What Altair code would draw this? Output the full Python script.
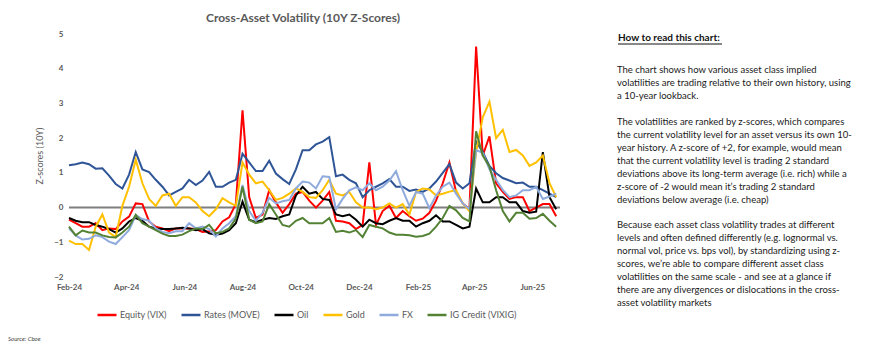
import altair as alt
import pandas as pd

# ---------------- data ----------------
series_names = ["Equity (VIX)", "Rates (MOVE)", "Oil", "Gold", "FX", "IG Credit (VIXIG)"]
series_colors = ["#FF0000", "#2F5597", "#000000", "#FFC000", "#8FAADC", "#548235"]

# weekly observations, Feb-2024 .. Jun-2025
dates = pd.date_range("2024-02-01", periods=74, freq="7D")

equity = [-0.35, -0.45, -0.55, -0.55, -0.45, -0.65, -0.6, -0.62, -0.4, -0.26,
          0.12, 0.1, -0.4, -0.55, -0.6, -0.68, -0.6, -0.6, -0.6, -0.62,
          -0.7, -0.68, -0.65, -0.4, -0.28, 0.1, 2.8, 0.3, -0.3, -0.2,
          0.5, 0.15, -0.15, 0.1, 0.4, 0.45, 0.2, 0.0, 0.2, 0.45,
          -0.38, -0.4, -0.45, -0.62, -0.5, 1.3, -0.5, -0.1, 0.05, -0.3,
          -0.1, -0.25, -0.38, -0.32, -0.15, 0.2, 0.7, 1.3, 0.45, 0.12,
          -0.05, 4.64, 1.5, 2.05, 0.7, 0.45, 0.25, 0.3, 0.3, -0.1,
          0.0, 0.1, 0.1, -0.25]
rates = [1.22, 1.25, 1.3, 1.25, 1.12, 1.13, 0.92, 0.68, 0.55, 0.95,
         1.6, 1.1, 1.02, 0.8, 0.6, 0.35, 0.45, 0.55, 0.8, 0.65,
         0.78, 1.03, 0.6, 0.6, 0.72, 0.8, 1.55, 1.3, 1.05, 1.05,
         1.35, 0.98, 0.82, 0.68, 1.1, 1.65, 1.65, 1.82, 1.9, 2.03,
         0.9, 0.95, 0.8, 0.7, 0.3, 0.5, 0.6, 0.7, 0.82, 0.6,
         0.6, 0.48, 0.52, 0.45, 0.55, 0.75, 1.0, 1.25, 0.72, 0.55,
         0.7, 1.9, 1.6, 1.2, 0.99, 0.85, 0.78, 0.7, 0.72, 0.6,
         0.6, 0.5, 0.4, 0.3]
oil = [-0.3, -0.38, -0.42, -0.42, -0.5, -0.55, -0.62, -0.72, -0.6, -0.4,
       -0.3, -0.38, -0.55, -0.6, -0.62, -0.62, -0.6, -0.58, -0.6, -0.65,
       -0.62, -0.74, -0.78, -0.75, -0.65, -0.45, 0.17, -0.35, -0.42, -0.35,
       -0.3, -0.33, -0.25, -0.2, 0.35, 0.6, 0.4, 0.45, 0.25, 0.22,
       -0.2, -0.25, -0.2, -0.35, -0.55, -0.35, -0.45, -0.48, -0.38, -0.3,
       -0.38, -0.38, -0.55, -0.45, -0.38, -0.22, -0.4, -0.4, -0.5, -0.6,
       -0.55, 0.55, 0.15, 0.15, 0.3, 0.3, 0.15, 0.15, -0.1, -0.15,
       -0.12, 1.6, 0.3, -0.05]
gold = [-0.95, -1.05, -1.05, -1.22, -0.55, -0.2, -0.72, -0.85, 0.05, 0.6,
        1.38, 0.7, 0.25, 0.05, 0.35, 0.4, 0.05, 0.3, 0.3, 0.15,
        -0.1, -0.25, -0.05, 0.27, 0.15, 0.05, 1.3, 0.95, 0.7, 0.75,
        0.5, 0.22, 0.28, 0.4, 0.55, 0.45, 0.3, 0.28, 0.5, 0.8,
        0.4, 0.35, 0.45, 0.15, 0.0, 0.0, -0.05, 0.0, 0.12, 0.0,
        0.1, -0.2, 0.45, 0.55, 0.52, 0.35, 0.4, 0.46, 0.5, 0.12,
        -0.1, 1.6, 2.6, 3.05, 2.0, 2.24, 1.6, 1.66, 1.5, 1.2,
        1.3, 1.5, 0.7, 0.3]
fx = [-0.6, -0.8, -0.92, -0.9, -0.8, -0.85, -0.98, -1.05, -0.85, -0.65,
      -0.22, -0.33, -0.38, -0.6, -0.7, -0.74, -0.68, -0.68, -0.45, -0.6,
      -0.55, -0.62, -0.83, -0.6, -0.45, -0.25, 0.65, -0.1, -0.38, -0.15,
      0.28, 0.12, 0.18, 0.22, 0.55, 0.75, 0.72, 0.55, 0.9, 0.88,
      -0.05, 0.25, 0.5, 0.58, 0.5, 0.7, 0.5, 0.6, 0.78, 1.05,
      0.5, 0.05, 0.45, 0.4, -0.02, 0.35, 0.6, 0.72, 0.4, 0.12,
      -0.05, 1.66, 1.57, 1.1, 0.8, 0.51, 0.3, 0.35, 0.5, 0.5,
      0.6, 0.25, 0.32, 0.4]
ig_credit = [-0.55, -0.8, -0.66, -0.72, -0.72, -0.8, -0.85, -0.86, -0.72, -0.55,
             -0.21, -0.45, -0.55, -0.65, -0.75, -0.82, -0.82, -0.78, -0.68, -0.6,
             -0.62, -0.5, -0.74, -0.7, -0.6, -0.32, 0.6, -0.35, -0.45, -0.4,
             0.1, -0.2, -0.5, -0.55, -0.38, -0.3, -0.45, -0.45, -0.45, -0.3,
             -0.7, -0.67, -0.72, -0.65, -0.85, -0.5, -0.55, -0.6, -0.72, -0.78,
             -0.78, -0.8, -0.84, -0.82, -0.75, -0.55, -0.3, 0.05, -0.08, -0.3,
             -0.4, 2.2, 1.5, 1.18, 0.5, -0.1, -0.4, -0.15, -0.15, -0.32,
             -0.3, -0.18, -0.38, -0.55]

y_ticks = [-2, -1, 0, 1, 2, 3, 4, 5]
x_tick_months = [(2024, 2), (2024, 4), (2024, 6), (2024, 8), (2024, 10), (2024, 12),
                 (2025, 2), (2025, 4), (2025, 6)]

chart_title = "Cross-Asset Volatility (10Y Z-Scores)"
y_title = "Z-scores (10Y)"
source_text = "Source: Cboe"
panel_heading = "How to read this chart:"
paragraph_1 = [
    "The chart shows how various asset class implied",
    "volatilities are trading relative to their own history, using",
    "a 10-year lookback.",
]
paragraph_2 = [
    "The volatilities are ranked by z-scores, which compares",
    "the current volatility level for an asset versus its own 10-",
    "year history. A z-score of +2, for example, would mean",
    "that the current volatility level is trading 2 standard",
    "deviations above its long-term average (i.e. rich) while a",
    "z-score of -2 would mean it\u2019s trading 2 standard",
    "deviations below average (i.e. cheap)",
]
paragraph_3 = [
    "Because each asset class volatility trades at different",
    "levels and often defined differently (e.g. lognormal vs.",
    "normal vol, price vs. bps vol), by standardizing using z-",
    "scores, we\u2019re able to compare different asset class",
    "volatilities on the same scale - and see at a glance if",
    "there are any divergences or dislocations in the cross-",
    "asset volatility markets",
]

# ---------------- build ----------------
records = []
for name, vals in zip(series_names, [equity, rates, oil, gold, fx, ig_credit]):
    for d, v in zip(dates, vals):
        records.append({"date": d.strftime("%Y-%m-%d"), "series": name, "z": v})
df = pd.DataFrame(records)

FONT = "Lato"
GREY = "#595959"

x_enc = alt.X(
    "date:T",
    scale=alt.Scale(type="utc", domain=[alt.DateTime(year=2024, month=2, date=1, utc=True),
                                        alt.DateTime(year=2025, month=6, date=30, utc=True)]),
    axis=alt.Axis(values=[alt.DateTime(year=y, month=m, date=1, utc=True) for y, m in x_tick_months],
                  format="%b-%y", title=None, ticks=False, domain=False, grid=False,
                  labelFont=FONT, labelFontSize=8, labelFontWeight="bold", labelColor=GREY,
                  labelPadding=6, labelFlush=False, labelOverlap=False),
)
y_enc = alt.Y(
    "z:Q",
    scale=alt.Scale(domain=[-2, 5], nice=False, zero=False),
    axis=alt.Axis(values=y_ticks, title=y_title, titleFont=FONT, titleFontSize=9,
                  titleFontWeight="normal", titleColor=GREY, titlePadding=9,
                  labelFont=FONT, labelFontSize=8, labelFontWeight="bold", labelColor=GREY,
                  grid=False, domain=False, ticks=False, labelPadding=6,
                  labelOverlap=False, labelFlush=False),
)

lines = alt.Chart(df).mark_line(strokeWidth=2).encode(
    x=x_enc,
    y=y_enc,
    color=alt.Color("series:N", sort=series_names,
                    scale=alt.Scale(domain=series_names, range=series_colors),
                    legend=alt.Legend(orient="none", legendX=27, legendY=270, direction="horizontal",
                                      title=None, symbolType="stroke", symbolSize=361,
                                      symbolStrokeWidth=2.5, labelFont=FONT, labelFontSize=9,
                                      labelColor=GREY, columnPadding=9, labelOffset=2, padding=0)),
)

zero = alt.Chart(pd.DataFrame({"z": [0]})).mark_rule(color="#7F7F7F", strokeWidth=2).encode(y=y_enc)

title_mark = alt.Chart(pd.DataFrame({"t": [chart_title]})).mark_text(
    font=FONT, fontSize=12, fontWeight="bold", color=GREY, align="center", baseline="middle"
).encode(text="t:N", x=alt.value(234), y=alt.value(-16))

heading = alt.Chart(pd.DataFrame({"t": [panel_heading]})).mark_text(
    font=FONT, fontSize=10, fontWeight="bold", color="#111111", align="left", baseline="middle"
).encode(text="t:N", x=alt.value(549), y=alt.value(4))

underline = alt.Chart(pd.DataFrame({"t": [panel_heading]})).mark_rule(
    color="#111111", strokeWidth=1
).encode(x=alt.value(549), x2=alt.value(653), y=alt.value(10))


def paragraph(lines_, top):
    return alt.Chart(pd.DataFrame({"t": ["\n".join(lines_)]})).mark_text(
        font=FONT, fontSize=9.5, color="#1a1a1a", align="left", baseline="top",
        lineBreak="\n", lineHeight=13
    ).encode(text="t:N", x=alt.value(548), y=alt.value(top))


para1 = paragraph(paragraph_1, 30.5)
para2 = paragraph(paragraph_2, 82.5)
para3 = paragraph(paragraph_3, 186)

source = alt.Chart(pd.DataFrame({"t": [source_text]})).mark_text(
    font=FONT, fontSize=6, fontStyle="italic", color="#404040", align="left", baseline="middle"
).encode(text="t:N", x=alt.value(-61), y=alt.value(305))

chart = alt.layer(zero, lines, title_mark, heading, underline, para1, para2, para3, source).properties(
    width=491, height=243,
    autosize=alt.AutoSizeParams(type="none"),
    padding={"left": 61, "top": 26, "right": 315, "bottom": 72},
).configure_view(stroke=None)

chart.save("out.html", embed_options={"renderer": "svg", "actions": False})
